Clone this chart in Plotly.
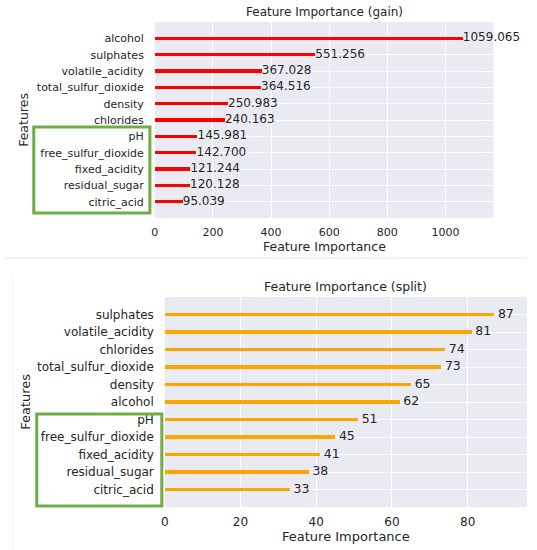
import plotly.graph_objects as go

# ---- data (bottom-to-top order) ----
gain_features = ["citric_acid", "residual_sugar", "fixed_acidity", "free_sulfur_dioxide", "pH",
                 "chlorides", "density", "total_sulfur_dioxide", "volatile_acidity", "sulphates", "alcohol"]
gain_values = [95.039, 120.128, 121.244, 142.700, 145.981,
               240.163, 250.983, 364.516, 367.028, 551.256, 1059.065]

split_features = ["citric_acid", "residual_sugar", "fixed_acidity", "free_sulfur_dioxide", "pH",
                  "alcohol", "density", "total_sulfur_dioxide", "chlorides", "volatile_acidity", "sulphates"]
split_values = [33, 38, 41, 45, 51, 62, 65, 73, 74, 81, 87]

gain_ticks = [0, 200, 400, 600, 800, 1000]
split_ticks = [0, 20, 40, 60, 80]

W, H = 537, 550
FONT = "DejaVu Sans"
TXT = "#262626"
BG = "#EAEAF2"
GREEN = "#70AD47"

def px(x):
    return x / W

def py(y):
    return 1 - y / H

fig = go.Figure()

# top chart (gain)
fig.add_trace(go.Bar(x=gain_values, y=gain_features, orientation="h", width=0.2,
                     marker=dict(color="#FF0000", line=dict(width=0)),
                     xaxis="x", yaxis="y", showlegend=False, hoverinfo="x+y"))
fig.add_trace(go.Scatter(x=[v + 1 for v in gain_values], y=gain_features, mode="text",
                         text=[f"{v:.3f}" for v in gain_values], textposition="middle right",
                         textfont=dict(family=FONT, size=12, color=TXT),
                         xaxis="x", yaxis="y", showlegend=False, hoverinfo="skip", cliponaxis=False))

# bottom chart (split)
fig.add_trace(go.Bar(x=split_values, y=split_features, orientation="h", width=0.2,
                     marker=dict(color="#FFA500", line=dict(width=0)),
                     xaxis="x2", yaxis="y2", showlegend=False, hoverinfo="x+y"))
fig.add_trace(go.Scatter(x=[v + 1 for v in split_values], y=split_features, mode="text",
                         text=[str(v) for v in split_values], textposition="middle right",
                         textfont=dict(family=FONT, size=12.5, color=TXT),
                         xaxis="x2", yaxis="y2", showlegend=False, hoverinfo="skip", cliponaxis=False))

def axis_common(size):
    return dict(showgrid=True, gridcolor="white", gridwidth=1, zeroline=False,
                showline=False, ticks="", tickfont=dict(family=FONT, size=size, color=TXT))

top_x0, top_x1, top_y0, top_y1 = 152, 493, 22, 218
bot_x0, bot_x1, bot_y0, bot_y1 = 162, 527, 297, 507

fig.update_layout(
    width=W, height=H,
    margin=dict(l=0, r=0, t=0, b=0),
    paper_bgcolor="white",
    plot_bgcolor=BG,
    font=dict(family=FONT, color=TXT),
    bargap=0,
    xaxis=dict(domain=[px(top_x0), px(top_x1)], anchor="y",
               range=[0, max(gain_values) * 1.1], tickvals=gain_ticks,
               ticklabelstandoff=6, **axis_common(11)),
    yaxis=dict(domain=[py(top_y1), py(top_y0)], anchor="x",
               type="category", categoryorder="array", categoryarray=gain_features,
               range=[-1, len(gain_features)], ticklabelstandoff=10, **axis_common(11)),
    xaxis2=dict(domain=[px(bot_x0), px(bot_x1)], anchor="y2",
                range=[0, max(split_values) * 1.1], tickvals=split_ticks,
                ticklabelstandoff=6, **axis_common(12)),
    yaxis2=dict(domain=[py(bot_y1), py(bot_y0)], anchor="x2",
                type="category", categoryorder="array", categoryarray=split_features,
                range=[-1, len(split_features)], ticklabelstandoff=10, **axis_common(12)),
)

ann = []
def add_text(text, x, y, size, angle=0):
    ann.append(dict(text=text, x=px(x), y=py(y), xref="paper", yref="paper",
                    showarrow=False, xanchor="center", yanchor="middle",
                    textangle=angle, font=dict(family=FONT, size=size, color=TXT)))

add_text("Feature Importance (gain)", (top_x0 + top_x1) / 2, 12, 12)
add_text("Feature Importance", (top_x0 + top_x1) / 2, 246, 12.5)
add_text("Features", 20, (top_y0 + top_y1) / 2, 12.5, -90)
add_text("Feature Importance (split)", (bot_x0 + bot_x1) / 2, 286, 12.5)
add_text("Feature Importance", (bot_x0 + bot_x1) / 2, 536, 13)
add_text("Features", 21, (bot_y0 + bot_y1) / 2, 13, -90)
fig.update_layout(annotations=ann)

shapes = [
    # separator / frame lines
    dict(type="line", xref="paper", yref="paper", x0=0, x1=px(527), y0=py(258), y1=py(258),
         line=dict(color="#E6E6E6", width=1)),
    dict(type="line", xref="paper", yref="paper", x0=px(9), x1=px(9), y0=py(275), y1=0,
         line=dict(color="#EFEFEF", width=1)),
    # green highlight boxes
    dict(type="rect", xref="paper", yref="paper", x0=px(30), x1=px(147), y0=py(213), y1=py(127),
         line=dict(color=GREEN, width=3), fillcolor="rgba(0,0,0,0)", layer="above"),
    dict(type="rect", xref="paper", yref="paper", x0=px(33), x1=px(159), y0=py(506), y1=py(414),
         line=dict(color=GREEN, width=3), fillcolor="rgba(0,0,0,0)", layer="above"),
]
fig.update_layout(shapes=shapes)

fig.write_html("out.html",
               config={"displayModeBar": False},
               post_script="document.body.style.margin='0';document.body.style.overflow='hidden';")
